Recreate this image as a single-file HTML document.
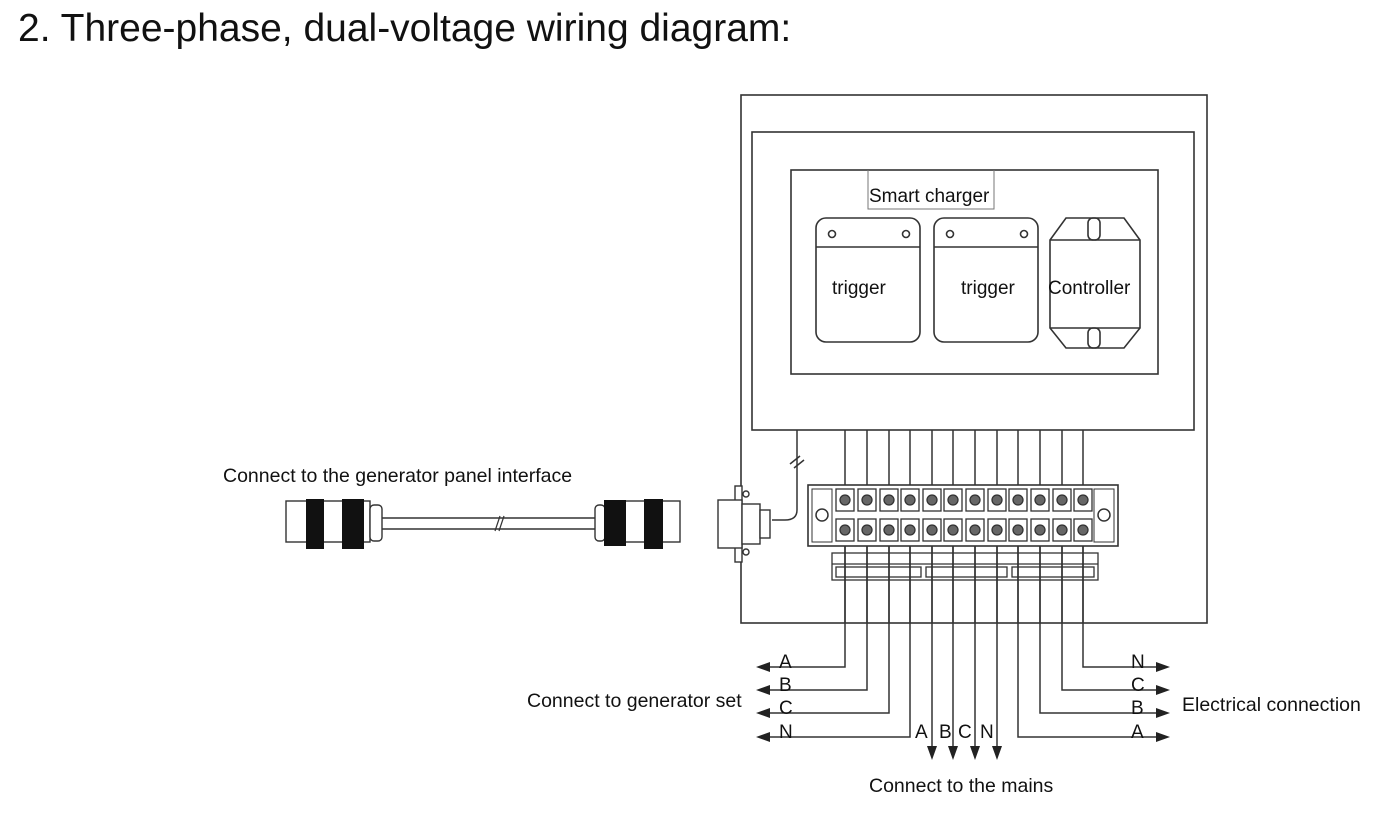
<!DOCTYPE html>
<html><head><meta charset="utf-8"><style>
body{margin:0;background:#fff;}
svg{display:block;font-family:"Liberation Sans",Arial,sans-serif;}
</style></head><body>
<svg width="1394" height="814" viewBox="0 0 1394 814" xmlns="http://www.w3.org/2000/svg">
<text x="18" y="41" font-size="39" fill="#111">2. Three-phase, dual-voltage wiring diagram:</text>
<g fill="none" stroke="#333" stroke-width="1.6">
<rect x="741" y="95" width="466" height="528"/>
<rect x="752" y="132" width="442" height="298"/>
<rect x="791" y="170" width="367" height="204"/>
<path d="M868 170 V209 H994 V170" stroke="#777" stroke-width="1"/>
<rect x="816" y="218" width="104" height="124" rx="10"/>
<line x1="816" y1="247" x2="920" y2="247"/>
<circle cx="832" cy="234" r="3.5"/><circle cx="906" cy="234" r="3.5"/>
<rect x="934" y="218" width="104" height="124" rx="10"/>
<line x1="934" y1="247" x2="1038" y2="247"/>
<circle cx="950" cy="234" r="3.5"/><circle cx="1024" cy="234" r="3.5"/>
<polygon points="1066,218 1124,218 1140,240 1140,328 1124,348 1066,348 1050,328 1050,240"/>
<line x1="1050" y1="240" x2="1140" y2="240"/><line x1="1050" y1="328" x2="1140" y2="328"/>
<rect x="1088" y="218" width="12" height="22" rx="5"/><rect x="1088" y="328" width="12" height="20" rx="5"/>
</g>
<text x="869" y="202" font-size="19" fill="#111">Smart charger</text>
<text x="832" y="294" font-size="19" fill="#111">trigger</text>
<text x="961" y="294" font-size="19" fill="#111">trigger</text>
<text x="1048" y="294" font-size="19" fill="#111">Controller</text>
<g stroke="#333" stroke-width="1.5" fill="none">
<path d="M845 430V667H768"/><path d="M867 430V690H768"/><path d="M889 430V713H768"/><path d="M910 430V737H768"/>
<path d="M932 430V748"/><path d="M953 430V748"/><path d="M975 430V748"/><path d="M997 430V748"/>
<path d="M1018 430V737H1158"/><path d="M1040 430V713H1158"/><path d="M1062 430V690H1158"/><path d="M1083 430V667H1158"/>
<path d="M797 430V510Q797 520 785 520H772"/>
<line x1="790" y1="464" x2="800" y2="456"/><line x1="794" y1="468" x2="804" y2="460"/>
</g>
<g fill="#222">
<polygon points="756,667 770,662 770,672"/><polygon points="756,690 770,685 770,695"/><polygon points="756,713 770,708 770,718"/><polygon points="756,737 770,732 770,742"/>
<polygon points="1170,667 1156,662 1156,672"/><polygon points="1170,690 1156,685 1156,695"/><polygon points="1170,713 1156,708 1156,718"/><polygon points="1170,737 1156,732 1156,742"/>
<polygon points="932,760 927,746 937,746"/><polygon points="953,760 948,746 958,746"/><polygon points="975,760 970,746 980,746"/><polygon points="997,760 992,746 1002,746"/>
</g>
<rect x="808" y="485" width="310" height="61" fill="#fff" stroke="#333" stroke-width="1.6"/>
<rect x="812" y="489" width="20" height="53" fill="#fff" stroke="#333"/>
<rect x="1094" y="489" width="20" height="53" fill="#fff" stroke="#333"/>
<circle cx="822" cy="515" r="6" fill="#fff" stroke="#333" stroke-width="1.5"/>
<circle cx="1104" cy="515" r="6" fill="#fff" stroke="#333" stroke-width="1.5"/>
<g stroke="#333" stroke-width="1.3" fill="#fff">
<g transform="translate(845,0)"><rect x="-9" y="489" width="18" height="22"/><rect x="-9" y="519" width="18" height="22"/><circle cx="0" cy="500" r="5" fill="#666"/><circle cx="0" cy="530" r="5" fill="#666"/></g>
<g transform="translate(867,0)"><rect x="-9" y="489" width="18" height="22"/><rect x="-9" y="519" width="18" height="22"/><circle cx="0" cy="500" r="5" fill="#666"/><circle cx="0" cy="530" r="5" fill="#666"/></g>
<g transform="translate(889,0)"><rect x="-9" y="489" width="18" height="22"/><rect x="-9" y="519" width="18" height="22"/><circle cx="0" cy="500" r="5" fill="#666"/><circle cx="0" cy="530" r="5" fill="#666"/></g>
<g transform="translate(910,0)"><rect x="-9" y="489" width="18" height="22"/><rect x="-9" y="519" width="18" height="22"/><circle cx="0" cy="500" r="5" fill="#666"/><circle cx="0" cy="530" r="5" fill="#666"/></g>
<g transform="translate(932,0)"><rect x="-9" y="489" width="18" height="22"/><rect x="-9" y="519" width="18" height="22"/><circle cx="0" cy="500" r="5" fill="#666"/><circle cx="0" cy="530" r="5" fill="#666"/></g>
<g transform="translate(953,0)"><rect x="-9" y="489" width="18" height="22"/><rect x="-9" y="519" width="18" height="22"/><circle cx="0" cy="500" r="5" fill="#666"/><circle cx="0" cy="530" r="5" fill="#666"/></g>
<g transform="translate(975,0)"><rect x="-9" y="489" width="18" height="22"/><rect x="-9" y="519" width="18" height="22"/><circle cx="0" cy="500" r="5" fill="#666"/><circle cx="0" cy="530" r="5" fill="#666"/></g>
<g transform="translate(997,0)"><rect x="-9" y="489" width="18" height="22"/><rect x="-9" y="519" width="18" height="22"/><circle cx="0" cy="500" r="5" fill="#666"/><circle cx="0" cy="530" r="5" fill="#666"/></g>
<g transform="translate(1018,0)"><rect x="-9" y="489" width="18" height="22"/><rect x="-9" y="519" width="18" height="22"/><circle cx="0" cy="500" r="5" fill="#666"/><circle cx="0" cy="530" r="5" fill="#666"/></g>
<g transform="translate(1040,0)"><rect x="-9" y="489" width="18" height="22"/><rect x="-9" y="519" width="18" height="22"/><circle cx="0" cy="500" r="5" fill="#666"/><circle cx="0" cy="530" r="5" fill="#666"/></g>
<g transform="translate(1062,0)"><rect x="-9" y="489" width="18" height="22"/><rect x="-9" y="519" width="18" height="22"/><circle cx="0" cy="500" r="5" fill="#666"/><circle cx="0" cy="530" r="5" fill="#666"/></g>
<g transform="translate(1083,0)"><rect x="-9" y="489" width="18" height="22"/><rect x="-9" y="519" width="18" height="22"/><circle cx="0" cy="500" r="5" fill="#666"/><circle cx="0" cy="530" r="5" fill="#666"/></g>
</g>
<g stroke="#333" stroke-width="1.3" fill="none">
<rect x="832" y="553" width="266" height="27"/>
<line x1="832" y1="564" x2="1098" y2="564"/>
<rect x="836" y="567" width="85" height="10"/><rect x="926" y="567" width="81" height="10"/><rect x="1012" y="567" width="82" height="10"/>
</g>
<g stroke="#333" stroke-width="1.5">
<line x1="845" y1="546" x2="845" y2="623"/><line x1="867" y1="546" x2="867" y2="623"/><line x1="889" y1="546" x2="889" y2="623"/><line x1="910" y1="546" x2="910" y2="623"/>
<line x1="932" y1="546" x2="932" y2="623"/><line x1="953" y1="546" x2="953" y2="623"/><line x1="975" y1="546" x2="975" y2="623"/><line x1="997" y1="546" x2="997" y2="623"/>
<line x1="1018" y1="546" x2="1018" y2="623"/><line x1="1040" y1="546" x2="1040" y2="623"/><line x1="1062" y1="546" x2="1062" y2="623"/><line x1="1083" y1="546" x2="1083" y2="623"/>
</g>
<g stroke="#333" stroke-width="1.4" fill="#fff">
<rect x="735" y="486" width="7" height="76"/>
<rect x="718" y="500" width="24" height="48"/>
<rect x="742" y="504" width="18" height="40"/>
<rect x="760" y="510" width="10" height="28"/>
<circle cx="746" cy="494" r="3"/><circle cx="746" cy="552" r="3"/>
</g>
<g stroke="#333" stroke-width="1.4">
<line x1="382" y1="518" x2="595" y2="518"/><line x1="382" y1="529" x2="595" y2="529"/>
<line x1="495" y1="531" x2="500" y2="516" stroke-width="1.2"/><line x1="499" y1="531" x2="504" y2="516" stroke-width="1.2"/>
<rect x="286" y="501" width="84" height="41" fill="#fff"/>
<rect x="370" y="505" width="12" height="36" rx="4" fill="#fff"/>
<rect x="595" y="505" width="10" height="36" rx="4" fill="#fff"/>
<rect x="605" y="501" width="75" height="41" fill="#fff"/>
</g>
<g fill="#111">
<rect x="306" y="499" width="18" height="50"/><rect x="342" y="499" width="22" height="50"/>
<rect x="604" y="500" width="22" height="46"/><rect x="644" y="499" width="19" height="50"/>
</g>
<g font-size="19.5" fill="#111">
<text x="223" y="482">Connect to the generator panel interface</text>
<text x="527" y="707">Connect to generator set</text>
<text x="1182" y="711">Electrical connection</text>
<text x="869" y="792">Connect to the mains</text>
<text x="779" y="668" font-size="19">A</text><text x="779" y="691" font-size="19">B</text><text x="779" y="714" font-size="19">C</text><text x="779" y="738" font-size="19">N</text>
<text x="1131" y="668" font-size="19">N</text><text x="1131" y="691" font-size="19">C</text><text x="1131" y="714" font-size="19">B</text><text x="1131" y="738" font-size="19">A</text>
<text x="915" y="738" font-size="19">A</text><text x="939" y="738" font-size="19">B</text><text x="958" y="738" font-size="19">C</text><text x="980" y="738" font-size="19">N</text>
</g>
</svg>
</body></html>
